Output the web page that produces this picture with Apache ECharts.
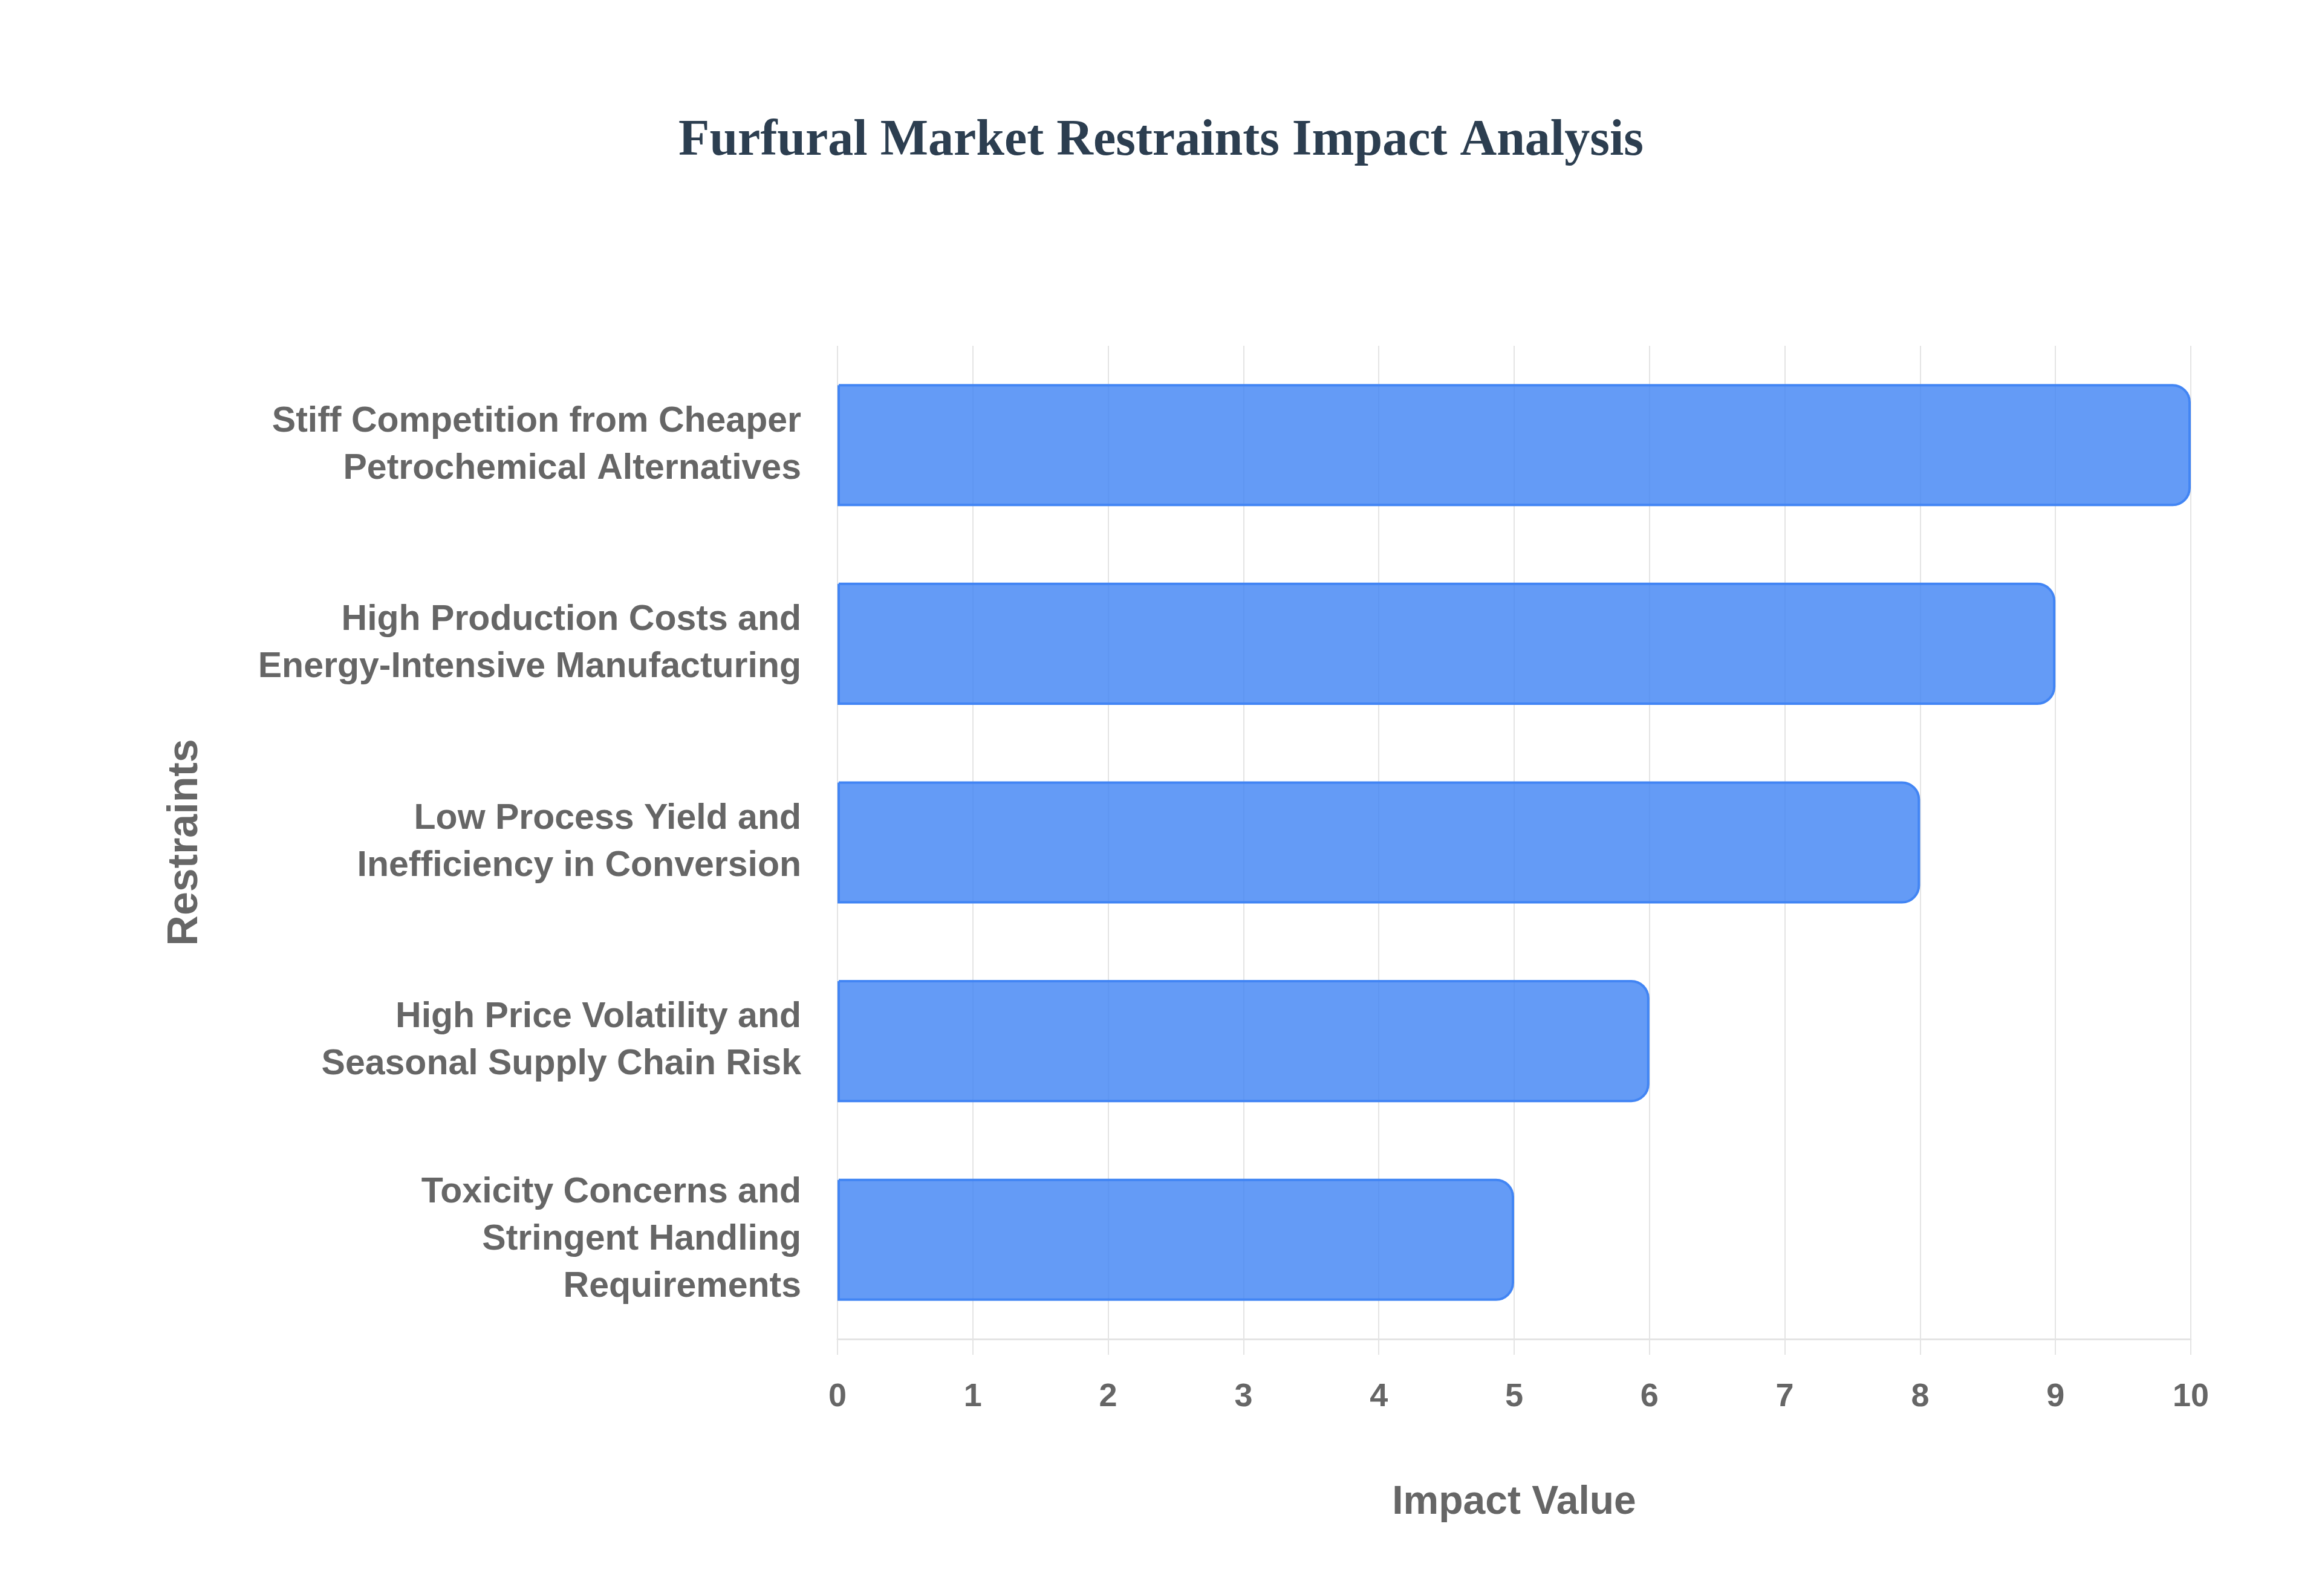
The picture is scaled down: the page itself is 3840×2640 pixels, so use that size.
<!DOCTYPE html>
<html>
<head>
<meta charset="utf-8">
<style>
  html, body { margin: 0; padding: 0; background: #ffffff; }
  #chart { width: 3840px; height: 2640px; }
</style>
<script src="https://cdn.jsdelivr.net/npm/echarts@6/dist/echarts.min.js"></script>
</head>
<body>
<div id="chart"></div>
<script>
const titleText = 'Furfural Market Restraints Impact Analysis';
const categories = [
  'Stiff Competition from Cheaper\nPetrochemical Alternatives',
  'High Production Costs and\nEnergy-Intensive Manufacturing',
  'Low Process Yield and\nInefficiency in Conversion',
  'High Price Volatility and\nSeasonal Supply Chain Risk',
  'Toxicity Concerns and\nStringent Handling\nRequirements'
];
const impactValues = [10, 9, 8, 6, 5];
const xAxisName = 'Impact Value';
const yAxisName = 'Restraints';

const chart = echarts.init(document.getElementById('chart'), null, { renderer: 'canvas' });
const sans = '"Liberation Sans", Arial, Helvetica, sans-serif';
const gridColor = '#e4e4e4';

chart.setOption({
  backgroundColor: '#ffffff',
  animation: false,
  title: {
    text: titleText,
    left: 'center',
    top: 187,
    textStyle: {
      fontFamily: '"Liberation Serif", "Times New Roman", serif',
      fontWeight: 'bold',
      fontSize: 84,
      color: '#2c3e50'
    }
  },
  grid: { left: 1385, right: 217, top: 572, bottom: 425, containLabel: false },
  xAxis: {
    type: 'value',
    min: 0,
    max: 10,
    interval: 1,
    name: xAxisName,
    nameLocation: 'middle',
    nameGap: 238,
    nameTextStyle: { fontFamily: sans, fontWeight: 'bold', fontSize: 66, color: '#666666' },
    axisLine: { show: true, lineStyle: { color: gridColor, width: 3 } },
    axisTick: { show: true, length: 26, lineStyle: { color: gridColor, width: 2 } },
    axisLabel: { margin: 69, fontFamily: sans, fontWeight: 'bold', fontSize: 54, color: '#666666' },
    splitLine: { show: true, lineStyle: { color: gridColor, width: 2 } }
  },
  yAxis: {
    type: 'category',
    inverse: true,
    data: categories,
    name: yAxisName,
    nameLocation: 'middle',
    nameRotate: 90,
    nameGap: 1043,
    nameTextStyle: { fontFamily: sans, fontWeight: 'bold', fontSize: 70, color: '#666666' },
    axisLine: { show: false },
    axisTick: { show: false },
    splitLine: { show: false },
    axisLabel: {
      margin: 60,
      fontFamily: sans,
      fontWeight: 'bold',
      fontSize: 59,
      lineHeight: 78,
      color: '#666666',
      align: 'right'
    }
  },
  series: [{
    type: 'bar',
    data: impactValues,
    barWidth: '61.5%',
    itemStyle: {
      color: 'rgba(66,133,244,0.82)',
      borderColor: '#4285F4',
      borderWidth: 4,
      borderRadius: [0, 28, 28, 0]
    }
  }]
});
</script>
</body>
</html>
